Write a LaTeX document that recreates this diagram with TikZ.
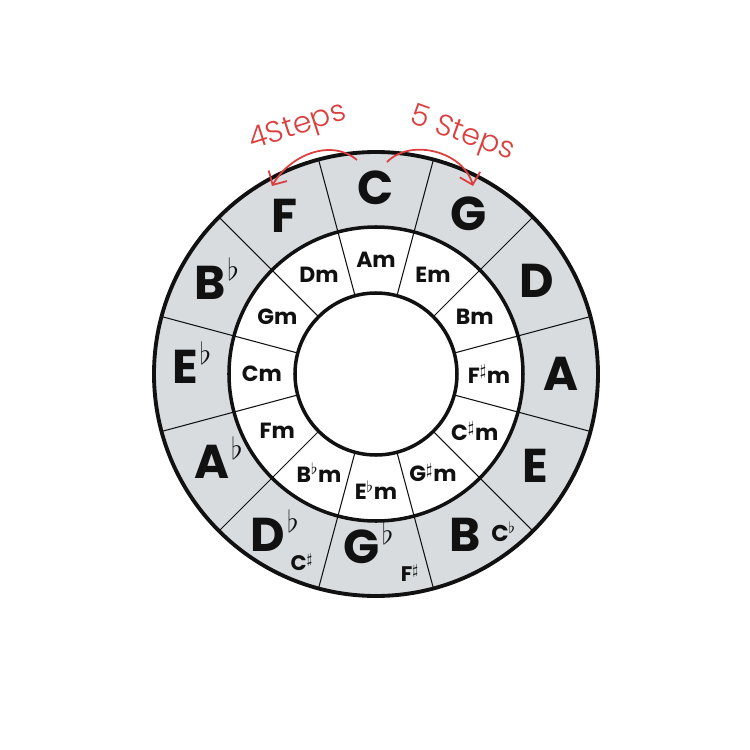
\documentclass[tikz,border=0pt]{standalone}
\usepackage{fontspec}
\setmainfont{Poppins}
\newfontfamily\stepfont{Poppins Light}
\usepackage{xcolor}
\usetikzlibrary{arrows.meta, positioning, calc}

\definecolor{ringgray}{RGB}{216,220,223}
\definecolor{ink}{RGB}{17,17,17}
\definecolor{stepred}{RGB}{220,62,62}
\newcommand{\fl}{\rlap{\smash{$^\flat$}}}
\newcommand{\bigfl}{\rlap{\smash{\kern1pt\raisebox{11pt}{\fontsize{19}{19}\selectfont$\flat$}}}}

\begin{document}
\begin{tikzpicture}[
    major/.style={text=ink, font=\fontsize{27}{30}\selectfont\bfseries, inner sep=0pt},
    minor/.style={text=ink, font=\fontsize{12.5}{14}\selectfont\bfseries, inner sep=0pt},
    enh/.style={text=ink, font=\fontsize{12}{14}\selectfont\bfseries, inner sep=0pt},
    ring/.style={draw=ink, line width=2.2pt},
    divider/.style={draw=ink, line width=0.6pt},
    steptext/.style={text=stepred, font=\fontsize{17}{20}\selectfont\stepfont, inner sep=0pt},
    steparrow/.style={draw=stepred, line width=1pt, -{Straight Barb[length=6pt, width=12pt]}}
]
\useasboundingbox (-7.52,-7.52) rectangle (7.48,7.48);

% Rings
\fill[ringgray] (0,0) circle (4.44);
\fill[white] (0,0) circle (2.94);
\foreach \ang in {15,45,...,345}
    \draw[divider] (\ang:1.62) -- (\ang:4.44);
\draw[ring] (0,0) circle (4.44);
\draw[ring, line width=2pt] (0,0) circle (2.94);
\draw[ring, line width=2pt] (0,0) circle (1.62);

% Major keys
\node[major] (c_major) at (90:3.72) {C};
\node[major] (g_major) at (60:3.70) {G};
\node[major] (d_major) at (30:3.72) {D};
\node[major] (a_major) at (0:3.70) {A};
\node[major] (e_major) at (-30:3.68) {E};
\node[major] (b_major) at (1.78,-3.22) {B};
\node[major] (gflat_major) at (-0.28,-3.46) {G\bigfl};
\node[major] (dflat_major) at (-2.16,-3.22) {D\bigfl};
\node[major] (aflat_major) at (-3.28,-1.76) {A\bigfl};
\node[major] (eflat_major) at (-3.82,0.14) {E\bigfl};
\node[major] (bflat_major) at (-3.32,1.82) {B\bigfl};
\node[major] (f_major) at (120:3.66) {F};

% Enharmonic names
\node[enh] (csharp_enh) at (-1.48,-3.76) {C$^\sharp$};
\node[enh] (fsharp_enh) at (0.68,-3.98) {F$^\sharp$};
\node[enh, font=\fontsize{13}{15}\selectfont\bfseries] (cflat_enh) at (2.48,-3.18) {C\fl};

% Minor keys
\node[minor] (am_minor) at (90:2.28) {Am};
\node[minor] (em_minor) at (60:2.28) {Em};
\node[minor] (bm_minor) at (30:2.28) {Bm};
\node[minor] (fsharpm_minor) at (0:2.26) {F$^\sharp$m};
\node[minor] (csharpm_minor) at (-30:2.28) {C$^\sharp$m};
\node[minor] (gsharpm_minor) at (-60:2.28) {G$^\sharp$m};
\node[minor] (eflatm_minor) at (-90:2.32) {E$^\flat$m};
\node[minor] (bflatm_minor) at (-120:2.28) {B$^\flat$m};
\node[minor] (fm_minor) at (-150:2.28) {Fm};
\node[minor] (cm_minor) at (180:2.28) {Cm};
\node[minor] (gm_minor) at (150:2.28) {Gm};
\node[minor] (dm_minor) at (120:2.28) {Dm};

% Steps
\coordinate (four_start) at (-0.38,4.28);
\coordinate (four_end) at (-2.08,3.76);
\coordinate (five_start) at (0.22,4.24);
\coordinate (five_end) at (1.94,3.76);
\draw[steparrow] (four_start) to[out=140, in=60] (four_end);
\draw[steparrow] (five_start) to[out=45, in=105] (five_end);
\node[steptext, rotate=18] (four_steps) at (-1.56,4.92) {4Steps};
\node[steptext, rotate=-20] (five_steps) at (1.72,4.78) {5 Steps};

\end{tikzpicture}
\end{document}
